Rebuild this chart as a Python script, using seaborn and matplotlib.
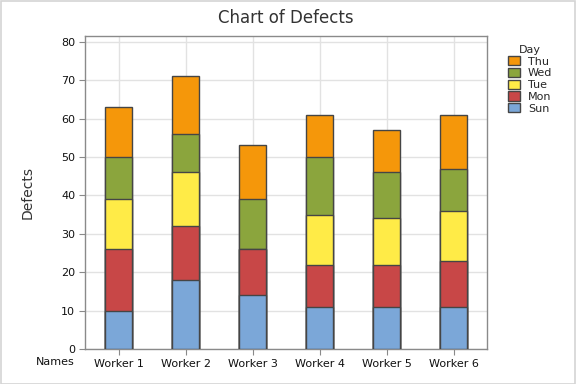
import pandas as pd
import numpy as np
import matplotlib
matplotlib.use('Agg')
import matplotlib.pyplot as plt
import matplotlib.patches as mpatches
import seaborn as sns

# values
workers = ['Worker 1', 'Worker 2', 'Worker 3', 'Worker 4', 'Worker 5', 'Worker 6']
days = ['Sun', 'Mon', 'Tue', 'Wed', 'Thu']
sun = [10, 18, 14, 11, 11, 11]
mon = [16, 14, 12, 11, 11, 12]
tue = [13, 14, 0, 13, 12, 13]
wed = [11, 10, 13, 15, 12, 11]
thu = [13, 15, 14, 11, 11, 14]

colors = {'Sun': '#7BA7D8', 'Mon': '#C84747', 'Tue': '#FFEB47',
          'Wed': '#8BA53D', 'Thu': '#F5970A'}

df = pd.DataFrame({'Names': workers, 'Sun': sun, 'Mon': mon, 'Tue': tue,
                   'Wed': wed, 'Thu': thu})
cum = df[days].cumsum(axis=1)
cum['Names'] = df['Names']

sns.set_style('white')
plt.rcParams['font.family'] = ['DejaVu Sans']

fig = plt.figure(figsize=(5.76, 3.84), dpi=100)
ax = fig.add_axes([0.1476, 0.0911, 0.8455 - 0.1476, 0.90625 - 0.0911])

# draw cumulative totals from top down so each segment shows
for d in reversed(days):
    sns.barplot(data=cum, x='Names', y=d, order=workers, color=colors[d],
                width=0.4, edgecolor='#454545', linewidth=1.0, saturation=1,
                ax=ax, zorder=3)

ax.set_xlim(-0.5, 5.5)
ax.set_ylim(0, 81.5)
ax.set_yticks(range(0, 81, 10))
ax.set_axisbelow(True)
ax.grid(True, color='#e2e2e2', linewidth=1.0, zorder=0)
for s in ax.spines.values():
    s.set_color('#8a8a8a')
    s.set_linewidth(1.0)
ax.tick_params(axis='both', which='both', length=4, width=0.8, color='#8a8a8a',
               labelsize=8, labelcolor='#111111', direction='out',
               bottom=True, left=True, pad=3)
ax.set_xlabel('')
ax.set_ylabel('Defects', fontsize=10, color='#333333', labelpad=19)
fig.text(55 / 576, 1 - 362 / 384, 'Names', ha='center', va='center',
         fontsize=8, color='#111111')
fig.suptitle('Chart of Defects', x=(85 + 487) / 2 / 576, y=1 - 18 / 384,
             va='center', fontsize=12, color='#333333')

handles = [mpatches.Patch(facecolor=colors[d], edgecolor='#454545', label=d)
           for d in reversed(days)]
leg = fig.legend(handles=handles, title='Day', loc='upper left',
                 bbox_to_anchor=(500 / 576, 1 - 37 / 384), frameon=False,
                 fontsize=8, title_fontsize=8, handlelength=1.1,
                 handleheight=0.9, labelspacing=0.12, borderpad=0.2,
                 handletextpad=0.7)

fig.patches.append(mpatches.Rectangle((0.001, 0.001), 0.997, 0.997,
                                      transform=fig.transFigure, fill=False,
                                      edgecolor='#d4d4d4', linewidth=1.2))
fig.savefig('out.png', dpi=100)
